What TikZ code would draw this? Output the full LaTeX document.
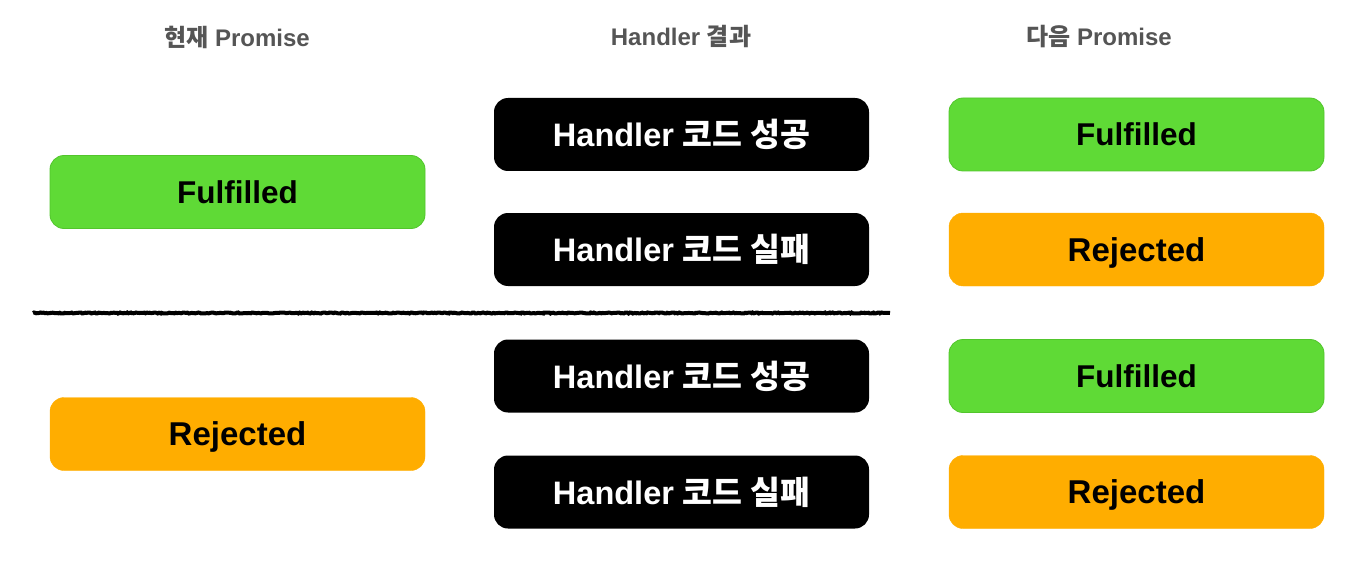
\documentclass[tikz,border=0pt]{standalone}
\usepackage{fontspec}
\setmainfont{Liberation Sans}
\newfontfamily\kr{Noto Sans CJK KR}
\usepackage{xcolor}
\usepackage{tikz}
\usetikzlibrary{decorations.pathmorphing}
\definecolor{okgreen}{HTML}{5FDA36}
\definecolor{okgreenline}{HTML}{52C52C}
\definecolor{errorange}{HTML}{FFAD00}
\definecolor{headgray}{HTML}{555555}

\begin{document}
\begin{tikzpicture}[x=1pt,y=1pt,
                    box/.style={rounded corners=14pt,minimum width=375pt,minimum height=73pt,inner sep=0pt,
                                font=\fontsize{31.5}{36}\selectfont\bfseries},
                    ok node/.style={box,fill=okgreen,draw=okgreenline,line width=0.8pt},
                    fail node/.style={box,fill=errorange,draw=errorange,text height=23pt,text depth=0pt,
                                      font=\fontsize{33}{36}\selectfont\bfseries},
                    handler node/.style={box,fill=black,text=white,font=\fontsize{32.5}{36}\selectfont\bfseries},
                    head node/.style={text=headgray,font=\fontsize{24}{28}\selectfont\bfseries}]

  \useasboundingbox (0,0) rectangle (1358,-575);

  \node[head node] (h1) at (237,-37) {{\kr 현재} Promise};
  \node[head node] (h2) at (681,-37) {Handler {\kr 결과}};
  \node[head node] (h3) at (1099,-37) {{\kr 다음} Promise};

  \node[ok node] (1) at (237.5,-192) {Fulfilled};
  \node[fail node] (2) at (237.5,-434) {Rejected};

  \node[handler node] (3) at (681.5,-134.5) {Handler {\kr 코드 성공}};
  \node[handler node] (4) at (681.5,-249.5) {Handler {\kr 코드 실패}};
  \node[handler node] (5) at (681.5,-376) {Handler {\kr 코드 성공}};
  \node[handler node] (6) at (681.5,-492) {Handler {\kr 코드 실패}};

  \node[ok node] (7) at (1136.5,-134.5) {Fulfilled};
  \node[fail node] (8) at (1136.5,-249.5) {Rejected};
  \node[ok node] (9) at (1136.5,-376) {Fulfilled};
  \node[fail node] (10) at (1136.5,-492) {Rejected};

  \coordinate (cut west) at (33,-313);
  \coordinate (cut east) at (890,-313);
  \draw[line width=4pt,decorate,decoration={random steps,segment length=1.5pt,amplitude=0.5pt}]
    (cut west) -- (cut east);

\end{tikzpicture}
\end{document}
